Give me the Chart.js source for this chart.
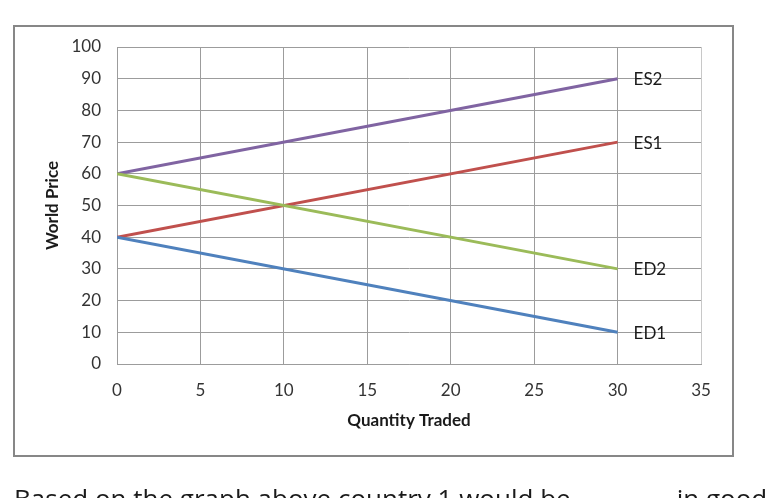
<!DOCTYPE html>
<html>
<head>
<meta charset="utf-8">
<script src="https://cdn.jsdelivr.net/npm/chart.js@4.4.1/dist/chart.umd.min.js"></script>
<style>
  html, body { margin: 0; padding: 0; background: #ffffff; width: 774px; height: 498px; overflow: hidden; }
  #box { position: absolute; left: 13px; top: 25px; width: 721px; height: 432px; box-sizing: border-box; border: 2px solid #878787; }
  #cv { position: absolute; left: 0; top: 0; }
  #q { position: absolute; left: 14px; top: 480px; font-family: "Open Sans", sans-serif; font-size: 26px; color: #1a1a1a; white-space: nowrap; line-height: normal; }
  #q .gap { display: inline-block; width: 106px; }
</style>
</head>
<body>
<div id="box"></div>
<canvas id="cv" width="774" height="498"></canvas>
<div id="q">Based on the graph above country 1 would be<span class="gap"></span>in good</div>
<script>
// ---- data ----
const quantity = [0, 30];
const ED1 = [40, 10];
const ED2 = [60, 30];
const ES1 = [40, 70];
const ES2 = [60, 90];
const seriesNames = ['ED1', 'ED2', 'ES1', 'ES2'];
const xTicks = [0, 5, 10, 15, 20, 25, 30, 35];
const yTicks = [0, 10, 20, 30, 40, 50, 60, 70, 80, 90, 100];
const xTitle = 'Quantity Traded';
const yTitle = 'World Price';

const colors = { ED1: '#4F81BD', ED2: '#9BBB59', ES1: '#C0504D', ES2: '#8064A2' };
const seriesValues = { ED1, ED2, ES1, ES2 };

function pts(vals) { return quantity.map((q, i) => ({ x: q, y: vals[i] })); }

const datasets = seriesNames.map(n => ({
  label: n,
  data: pts(seriesValues[n]),
  borderColor: colors[n],
  backgroundColor: colors[n],
  borderWidth: 3,
  pointRadius: 0,
  showLine: true,
  fill: false,
  tension: 0
}));

const endLabels = {
  id: 'endLabels',
  afterDatasetsDraw(chart) {
    const ctx = chart.ctx;
    ctx.save();
    ctx.font = '17px Lato, "Open Sans", sans-serif';
    ctx.fillStyle = '#1a1a1a';
    ctx.textBaseline = 'middle';
    ctx.textAlign = 'left';
    chart.data.datasets.forEach((ds, i) => {
      const meta = chart.getDatasetMeta(i);
      const last = meta.data[meta.data.length - 1];
      ctx.fillText(ds.label, last.x + 16, last.y + 1);
    });
    ctx.restore();
  }
};

const tickFont = { family: 'Lato, "Open Sans", sans-serif', size: 17 };
const titleFont = { family: 'Lato, "Open Sans", sans-serif', size: 17, weight: 'bold', lineHeight: 1.2 };

new Chart(document.getElementById('cv'), {
  type: 'scatter',
  data: { datasets },
  plugins: [endLabels],
  options: {
    responsive: false,
    animation: false,
    devicePixelRatio: 1,
    layout: { padding: { left: 40, top: 47, right: 73, bottom: 67 } },
    plugins: { legend: { display: false }, tooltip: { enabled: false } },
    scales: {
      x: {
        type: 'linear', min: 0, max: 35,
        afterBuildTicks: s => { s.ticks = xTicks.map(v => ({ value: v })); },
        afterFit: s => { s.height = 67; },
        ticks: { color: '#333333', font: tickFont, padding: 16, maxRotation: 0 },
        grid: {
          color: ctx => (ctx.tick && ctx.tick.value === 35 ? '#c8c8c8' : '#9c9c9c'),
          lineWidth: 1, drawTicks: false
        },
        border: { color: '#9c9c9c' },
        title: { display: true, text: xTitle, color: '#1a1a1a', font: titleFont, padding: 0 }
      },
      y: {
        type: 'linear', min: 0, max: 100,
        afterBuildTicks: s => { s.ticks = yTicks.map(v => ({ value: v })); },
        afterFit: s => { s.width = 77; },
        ticks: { color: '#333333', font: tickFont, padding: 16 },
        grid: { color: '#9c9c9c', lineWidth: 1, drawTicks: false },
        border: { color: '#9c9c9c' },
        title: { display: true, text: yTitle, color: '#1a1a1a', font: titleFont, padding: 2 }
      }
    }
  }
});
</script>
</body>
</html>
